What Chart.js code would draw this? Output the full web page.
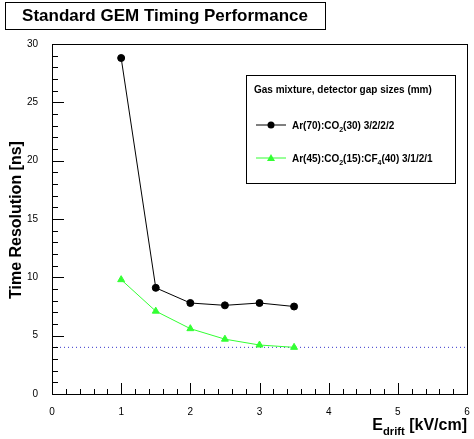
<!DOCTYPE html>
<html><head><meta charset="utf-8">
<script src="https://cdn.jsdelivr.net/npm/chart.js@4"></script>
<style>body{margin:0;background:#fff}#c{display:block}</style>
</head><body>
<div style="width:474px;height:439px"><canvas id="c"></canvas></div>
<script>
// Daten
const eDrift = [1, 1.5, 2, 2.5, 3, 3.5];
const arCo2 = [28.8, 9.1, 7.8, 7.6, 7.8, 7.5];
const arCo2Cf4 = [9.8, 7.1, 5.6, 4.7, 4.2, 4.0];
const refLine = 4;
const xTicks = [0, 1, 2, 3, 4, 5, 6];
const yTicks = [0, 5, 10, 15, 20, 25, 30];

const F = '"Liberation Sans", Arial, sans-serif';

function pts(ys) { return eDrift.map((x, i) => ({ x, y: ys[i] })); }

// Text mit Tiefstellungen: [[text, sub?], ...]
function richText(ctx, parts, x, y, size) {
  let cx = x;
  parts.forEach(([t, sub]) => {
    ctx.font = (ctx.fontBold ? 'bold ' : '') + (sub ? size * 0.7 : size) + 'px ' + F;
    ctx.fillText(t, cx, sub ? y + size * 0.3 : y);
    cx += ctx.measureText(t).width;
  });
}
function richWidth(ctx, parts, size) {
  let w = 0;
  parts.forEach(([t, sub]) => {
    ctx.font = (ctx.fontBold ? 'bold ' : '') + (sub ? size * 0.7 : size) + 'px ' + F;
    w += ctx.measureText(t).width;
  });
  return w;
}

const rootFrame = {
  id: 'rootFrame',
  afterDraw(chart) {
    const { ctx, chartArea: a, scales: { x, y } } = chart;
    ctx.save();
    ctx.strokeStyle = '#000'; ctx.lineWidth = 1;
    ctx.strokeRect(a.left + 0.5, a.top + 0.5, a.right - a.left, a.bottom - a.top);
    // Ticks nach innen
    for (let v = 0; v <= 6.001; v += 0.2) {
      const px = Math.round(x.getPixelForValue(v)) + 0.5;
      const major = Math.abs(v - Math.round(v)) < 1e-6;
      const len = major ? 11 : 5;
      ctx.beginPath(); ctx.moveTo(px, a.bottom); ctx.lineTo(px, a.bottom - len); ctx.stroke();
    }
    for (let v = 0; v <= 30.001; v += 1) {
      const py = Math.round(y.getPixelForValue(v)) + 0.5;
      const len = v % 5 === 0 ? 12 : 6;
      ctx.beginPath(); ctx.moveTo(a.left, py); ctx.lineTo(a.left + len, py); ctx.stroke();
    }
    // Titelbox
    ctx.fillStyle = '#fff'; ctx.fillRect(5, 2, 320, 27);
    ctx.strokeRect(5.5, 2.5, 320, 27);
    ctx.fillStyle = '#000';
    ctx.font = 'bold 17px ' + F; ctx.textBaseline = 'middle'; ctx.textAlign = 'center';
    ctx.fillText('Standard GEM Timing Performance', 165, 16);
    // Achsentitel
    ctx.textAlign = 'left'; ctx.textBaseline = 'alphabetic'; ctx.fontBold = true;
    const xt = [['E', 0], ['drift', 1], [' [kV/cm]', 0]];
    richText(ctx, xt, a.right - richWidth(ctx, xt, 16), 430, 16);
    ctx.save();
    ctx.translate(21, a.top + 255); ctx.rotate(-Math.PI / 2);
    ctx.font = 'bold 16px ' + F; ctx.fillText('Time Resolution [ns]', 0, 0);
    ctx.restore();
    // Legende
    const lx = 246, ly = 75, lw = 209, lh = 108;
    ctx.fillStyle = '#fff'; ctx.fillRect(lx, ly, lw, lh);
    ctx.strokeRect(lx + 0.5, ly + 0.5, lw, lh);
    ctx.fillStyle = '#000'; ctx.font = 'bold 10px ' + F;
    ctx.fillText('Gas mixture, detector gap sizes (mm)', lx + 8, ly + 18);
    const items = [
      { c: '#000', tri: false, y: ly + 50, t: [['Ar(70):CO', 0], ['2', 1], ['(30) 3/2/2/2', 0]] },
      { c: '#33ff33', tri: true, y: ly + 83, t: [['Ar(45):CO', 0], ['2', 1], ['(15):CF', 0], ['4', 1], ['(40) 3/1/2/1', 0]] }
    ];
    items.forEach(it => {
      ctx.strokeStyle = it.c; ctx.fillStyle = it.c;
      ctx.beginPath(); ctx.moveTo(lx + 10, it.y); ctx.lineTo(lx + 40, it.y); ctx.stroke();
      ctx.beginPath();
      if (it.tri) { ctx.moveTo(lx + 25, it.y - 4); ctx.lineTo(lx + 29, it.y + 3); ctx.lineTo(lx + 21, it.y + 3); ctx.closePath(); }
      else ctx.arc(lx + 25, it.y, 3.5, 0, Math.PI * 2);
      ctx.fill();
      ctx.fillStyle = '#000';
      richText(ctx, it.t, lx + 46, it.y + 4, 10);
    });
    ctx.restore();
  }
};

new Chart(document.getElementById('c'), {
  type: 'scatter',
  data: {
    datasets: [
      { data: pts(arCo2), showLine: true, borderColor: '#000', backgroundColor: '#000', borderWidth: 1, pointRadius: 3.5, pointStyle: 'circle' },
      { data: pts(arCo2Cf4), showLine: true, borderColor: '#33ff33', backgroundColor: '#33ff33', borderWidth: 1, pointRadius: 4, pointStyle: 'triangle' },
      { data: [{ x: 0, y: refLine }, { x: 6, y: refLine }], showLine: true, borderColor: '#3333cc', borderWidth: 1, borderDash: [1, 3], pointRadius: 0 }
    ]
  },
  options: {
    responsive: true, maintainAspectRatio: false, animation: false,
    layout: { padding: { top: 44, right: 7, left: 0, bottom: 0 } },
    plugins: { legend: { display: false }, tooltip: { enabled: false } },
    scales: {
      x: {
        min: 0, max: 6,
        afterFit: s => { s.height = 45; },
        afterBuildTicks: s => { s.ticks = xTicks.map(v => ({ value: v })); },
        grid: { display: false }, border: { display: false },
        ticks: { color: '#000', font: { family: F, size: 10 }, padding: 4 }
      },
      y: {
        min: 0, max: 30,
        afterFit: s => { s.width = 52; },
        afterBuildTicks: s => { s.ticks = yTicks.map(v => ({ value: v })); },
        grid: { display: false }, border: { display: false },
        ticks: { color: '#000', font: { family: F, size: 10 }, padding: 6 }
      }
    }
  },
  plugins: [rootFrame]
});
</script>
</body></html>
